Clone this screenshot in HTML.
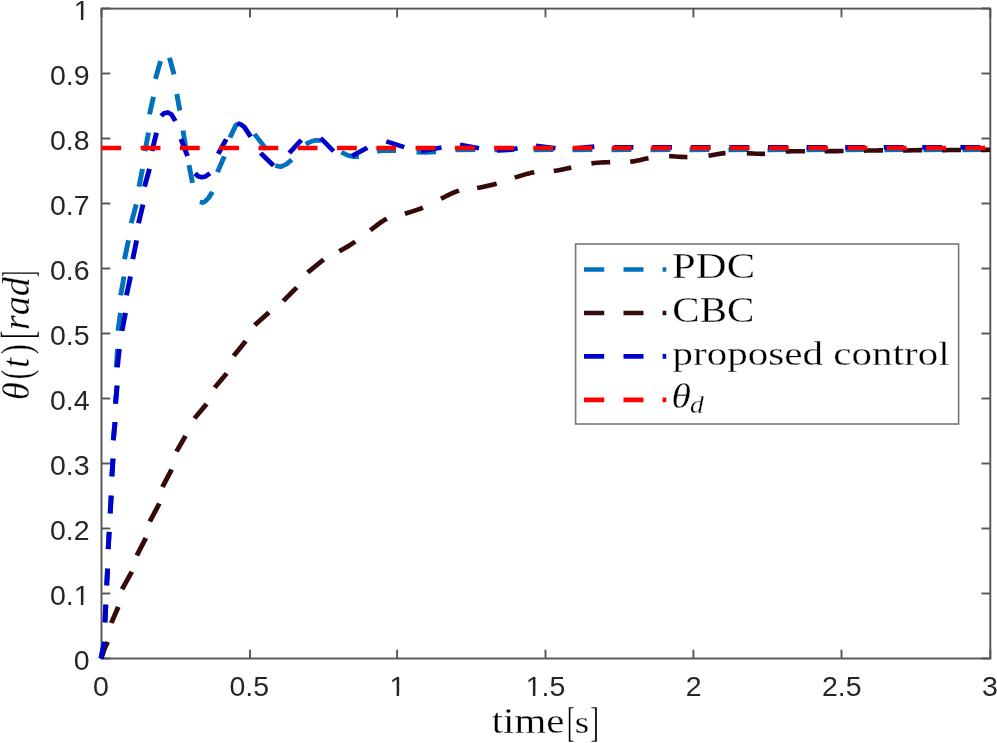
<!DOCTYPE html>
<html><head><meta charset="utf-8"><style>
html,body{margin:0;padding:0;background:#fff;}
svg{display:block;filter:blur(0.45px);}
.tk{font-family:"Liberation Sans",Arial,sans-serif;font-size:27px;fill:#262626;}
.ser{font-family:"Liberation Serif","Times New Roman",serif;fill:#000;stroke:#fff;stroke-width:0.3px;}
</style></head><body>
<svg width="997" height="743" viewBox="0 0 997 743">
<rect width="997" height="743" fill="#fff"/>
<g stroke="#555555" stroke-width="1.9" fill="none">
<rect x="101.5" y="8.6" width="888.8" height="649.9"/>
<line x1="101.5" y1="658.5" x2="101.5" y2="649.7"/><line x1="101.5" y1="8.6" x2="101.5" y2="17.4"/><line x1="250.0" y1="658.5" x2="250.0" y2="649.7"/><line x1="250.0" y1="8.6" x2="250.0" y2="17.4"/><line x1="397.1" y1="658.5" x2="397.1" y2="649.7"/><line x1="397.1" y1="8.6" x2="397.1" y2="17.4"/><line x1="545.5" y1="658.5" x2="545.5" y2="649.7"/><line x1="545.5" y1="8.6" x2="545.5" y2="17.4"/><line x1="693.4" y1="658.5" x2="693.4" y2="649.7"/><line x1="693.4" y1="8.6" x2="693.4" y2="17.4"/><line x1="841.5" y1="658.5" x2="841.5" y2="649.7"/><line x1="841.5" y1="8.6" x2="841.5" y2="17.4"/><line x1="990.3" y1="658.5" x2="990.3" y2="649.7"/><line x1="990.3" y1="8.6" x2="990.3" y2="17.4"/><line x1="101.5" y1="658.5" x2="110.3" y2="658.5"/><line x1="990.3" y1="658.5" x2="981.5" y2="658.5"/><line x1="101.5" y1="593.5" x2="110.3" y2="593.5"/><line x1="990.3" y1="593.5" x2="981.5" y2="593.5"/><line x1="101.5" y1="528.5" x2="110.3" y2="528.5"/><line x1="990.3" y1="528.5" x2="981.5" y2="528.5"/><line x1="101.5" y1="463.5" x2="110.3" y2="463.5"/><line x1="990.3" y1="463.5" x2="981.5" y2="463.5"/><line x1="101.5" y1="398.5" x2="110.3" y2="398.5"/><line x1="990.3" y1="398.5" x2="981.5" y2="398.5"/><line x1="101.5" y1="333.5" x2="110.3" y2="333.5"/><line x1="990.3" y1="333.5" x2="981.5" y2="333.5"/><line x1="101.5" y1="268.5" x2="110.3" y2="268.5"/><line x1="990.3" y1="268.5" x2="981.5" y2="268.5"/><line x1="101.5" y1="203.5" x2="110.3" y2="203.5"/><line x1="990.3" y1="203.5" x2="981.5" y2="203.5"/><line x1="101.5" y1="138.5" x2="110.3" y2="138.5"/><line x1="990.3" y1="138.5" x2="981.5" y2="138.5"/><line x1="101.5" y1="73.5" x2="110.3" y2="73.5"/><line x1="990.3" y1="73.5" x2="981.5" y2="73.5"/><line x1="101.5" y1="8.5" x2="110.3" y2="8.5"/><line x1="990.3" y1="8.5" x2="981.5" y2="8.5"/>
</g>
<g transform="matrix(1.075,0,0,1,0,0)" fill="none" stroke-width="4.6" stroke-linejoin="round" stroke-linecap="butt">
<path d="M93.95,658.50 97.12,641.90M97.67,622.40 98.42,604.70M99.26,585.40 100.09,568.60M100.65,549.20 101.58,531.80M102.51,513.30 103.44,495.60M104.09,476.30 105.12,458.70M105.40,440.30 106.98,422.10M107.44,403.80 108.93,385.60M108.19,367.30 109.40,349.00M109.77,330.80 112.09,312.90M112.28,295.40 115.35,276.50M115.81,259.20 119.53,240.30M122.05,223.30 126.79,204.40M129.30,186.70 132.56,168.90M134.88,151.10 138.14,132.70M139.07,114.40 142.79,96.70M144.65,78.90 149.30,61.10M157.67,57.80 161.86,74.40M164.47,94.00 167.26,110.50M170.23,130.50 173.02,149.00M175.81,165.20 179.07,182.90M185.86,202.00 188.37,202.60 190.70,201.50 193.95,198.00 197.58,191.80M202.33,172.20 208.65,156.30M213.95,137.50 219.53,125.00 221.86,123.30M236.74,134.00 245.02,145.50 247.44,149.50M256.09,165.40 259.07,166.40 261.40,166.60 266.05,164.50 271.44,159.80M284.47,144.30 287.44,142.50 290.23,141.20 293.95,140.30 298.60,140.50M317.49,152.20 321.86,154.60 325.58,156.00 329.30,156.80 333.86,156.80M350.70,151.30 359.07,150.40 368.37,150.60M387.44,152.30 396.28,152.40 405.58,152.00M423.72,149.90 442.14,149.80M460.00,149.90 478.42,149.80M496.47,149.90 514.88,149.80M532.56,149.90 550.98,149.80M568.84,149.90 587.26,149.80M605.12,149.90 623.53,149.80M641.40,149.90 659.81,149.80M677.67,149.90 696.09,149.80M713.95,149.90 732.37,149.80M750.23,149.90 768.65,149.80M786.51,149.90 804.93,149.80M822.79,149.90 841.21,149.80M859.07,149.90 877.49,149.80M895.35,149.90 913.77,149.80" stroke="#0072bd"/>
<path d="M94.14,658.50 96.74,650.00 100.09,641.80M103.53,623.00 110.05,606.80M113.58,589.30 122.60,571.80M127.35,555.60 135.63,538.10M139.35,521.40 148.19,503.60M151.16,486.90 159.63,469.40M164.19,451.50 172.56,435.90M180.93,418.40 192.19,404.00M199.72,387.70 210.88,373.30M217.40,355.80 228.56,341.10M236.93,325.10 250.14,312.50M263.53,301.00 276.00,287.50M286.23,272.40 301.02,259.50M315.63,251.30 318.11,249.79 320.60,248.25 323.09,246.68 325.56,245.07 328.01,243.41 330.42,241.70M344.47,230.30 346.95,228.30 349.44,226.21 351.95,224.14 354.51,222.15 357.12,220.35 359.81,218.80M376.65,213.70 379.46,212.78 382.26,211.86 385.06,210.92 387.85,209.93 390.63,208.87 393.40,207.70M410.23,198.70 413.01,197.24 415.78,195.73 418.55,194.25 421.33,192.86 424.14,191.62 426.98,190.60M443.81,188.10 446.83,187.48 449.89,186.81 452.96,186.08 456.02,185.30 459.06,184.47 462.05,183.60M478.79,177.60 481.77,176.60 484.79,175.59 487.83,174.59 490.89,173.66 493.96,172.85 497.02,172.20M515.16,170.90 517.92,170.47 520.62,169.97 523.30,169.41 525.97,168.82 528.68,168.21 531.44,167.60M550.14,163.40 553.07,163.02 555.98,162.73 558.87,162.52 561.77,162.36 564.69,162.23 567.63,162.10M586.23,161.80 589.11,161.38 591.93,160.81 594.73,160.15 597.53,159.47 600.36,158.83 603.26,158.30M622.42,156.30 625.30,156.31 628.12,156.45 630.92,156.67 633.71,156.89 636.55,157.06 639.44,157.10M659.07,155.60 661.79,155.22 664.40,154.75 666.97,154.26 669.54,153.79 672.16,153.38 674.88,153.10M694.70,153.30 697.60,153.40 700.43,153.54 703.23,153.69 706.02,153.81 708.84,153.86 711.72,153.80M730.88,151.50 733.90,151.34 736.90,151.25 739.88,151.21 742.86,151.21 745.84,151.21 748.84,151.20M767.07,151.20 770.02,151.18 772.96,151.15 775.88,151.12 778.82,151.09 781.77,151.05 784.74,151.00M803.72,150.60 806.70,150.55 809.64,150.51 812.57,150.47 815.49,150.44 818.43,150.41 821.40,150.40M840.00,150.50 842.99,150.46 845.97,150.39 848.94,150.31 851.90,150.22 854.87,150.15 857.86,150.10M876.28,150.10 879.24,150.09 882.18,150.07 885.11,150.06 888.04,150.04 890.99,150.02 893.95,150.00M912.56,149.90 914.14,149.88 915.59,149.87 916.95,149.85 918.26,149.83 919.57,149.82 920.93,149.80" stroke="#360a0a"/>
<path d="M93.95,658.50 97.12,641.90M97.67,622.40 98.42,604.70M99.26,585.40 100.09,568.60M100.65,549.20 101.58,531.80M102.51,513.30 103.44,495.60M104.09,476.30 105.12,458.70M105.40,440.30 106.98,422.10M107.44,403.80 108.93,385.60M109.21,367.30 110.98,349.00M113.49,330.80 116.74,312.90M117.67,295.40 121.40,276.50M123.53,259.20 127.07,240.30M128.84,223.30 133.02,204.40M134.42,186.70 139.07,168.90M141.40,151.10 145.58,132.70M149.95,116.00 152.56,113.20 156.09,112.40 159.53,114.50 163.07,121.00M168.37,139.00 174.42,156.00M181.40,173.50 184.65,176.50 187.81,177.30 191.16,176.50 195.26,173.20M202.98,153.90 210.42,139.30M220.93,123.50 224.19,124.50 227.44,127.30 233.21,136.80M242.42,153.10 254.51,165.70M269.12,153.10 280.28,140.10M298.23,138.00 310.33,151.20M327.35,156.10 341.67,147.70M359.35,141.30 376.00,147.10M391.63,151.20 410.70,147.60M427.91,144.80 445.58,148.20M462.33,150.50 472.56,150.00 481.49,148.30M498.60,145.80 516.74,148.30M534.88,148.30 552.84,146.60M570.79,147.40 589.21,147.40M606.70,147.40 625.12,147.40M642.60,147.40 661.02,147.40M678.51,147.40 696.93,147.40M714.42,147.40 732.84,147.40M750.33,147.40 768.74,147.40M786.23,147.40 804.65,147.40M822.14,147.40 840.56,147.40M857.86,147.40 876.28,147.40M893.40,147.40 911.81,147.40" stroke="#0000cc"/>
<path d="M94.33,147.99 112.74,147.99M130.86,147.99 149.27,147.99M167.39,147.99 185.80,147.99M203.92,147.99 222.33,147.99M240.45,147.99 258.87,147.99M276.98,147.99 295.40,147.99M313.51,147.99 331.93,147.99M350.04,147.99 368.46,147.99M386.57,147.99 404.99,147.99M423.10,147.99 441.52,147.99M459.63,147.99 478.05,147.99M496.16,147.99 514.58,147.99M532.69,147.99 551.11,147.99M569.22,147.99 587.64,147.99M605.75,147.99 624.17,147.99M642.28,147.99 660.70,147.99M678.81,147.99 697.23,147.99M715.34,147.99 733.76,147.99M751.87,147.99 770.29,147.99M788.40,147.99 806.82,147.99M824.93,147.99 843.35,147.99M861.46,147.99 879.88,147.99M897.99,147.99 916.41,147.99" stroke="#ff0000"/>
</g>
<g class="tk">
<text transform="matrix(1.055,0,0,1,101.0,695.8)" text-anchor="middle">0</text><text transform="matrix(1.055,0,0,1,249.2,695.8)" text-anchor="middle">0.5</text><text transform="matrix(1.055,0,0,1,397.3,695.8)" text-anchor="middle">1</text><text transform="matrix(1.055,0,0,1,545.5,695.8)" text-anchor="middle">1.5</text><text transform="matrix(1.055,0,0,1,693.7,695.8)" text-anchor="middle">2</text><text transform="matrix(1.055,0,0,1,841.8,695.8)" text-anchor="middle">2.5</text><text transform="matrix(1.055,0,0,1,990.0,695.8)" text-anchor="middle">3</text>
<text transform="matrix(1.055,0,0,1,89.5,669.7)" text-anchor="end">0</text><text transform="matrix(1.055,0,0,1,89.5,604.7)" text-anchor="end">0.1</text><text transform="matrix(1.055,0,0,1,89.5,539.7)" text-anchor="end">0.2</text><text transform="matrix(1.055,0,0,1,89.5,474.7)" text-anchor="end">0.3</text><text transform="matrix(1.055,0,0,1,89.5,409.7)" text-anchor="end">0.4</text><text transform="matrix(1.055,0,0,1,89.5,344.7)" text-anchor="end">0.5</text><text transform="matrix(1.055,0,0,1,89.5,279.7)" text-anchor="end">0.6</text><text transform="matrix(1.055,0,0,1,89.5,214.7)" text-anchor="end">0.7</text><text transform="matrix(1.055,0,0,1,89.5,149.7)" text-anchor="end">0.8</text><text transform="matrix(1.055,0,0,1,89.5,84.7)" text-anchor="end">0.9</text><text transform="matrix(1.055,0,0,1,89.5,19.7)" text-anchor="end">1</text>
</g>
<g fill="#fff"><rect x="390.80" y="693.38" width="5.77" height="3.22"/><rect x="399.09" y="693.38" width="5.62" height="3.22"/><rect x="527.09" y="693.38" width="5.77" height="3.22"/><rect x="535.38" y="693.38" width="5.62" height="3.22"/><rect x="75.05" y="602.28" width="5.77" height="3.22"/><rect x="83.34" y="602.28" width="5.62" height="3.22"/><rect x="75.05" y="17.28" width="5.77" height="3.22"/><rect x="83.34" y="17.28" width="5.62" height="3.22"/></g>
<text class="ser" transform="matrix(1.1360,0.0000,0.0000,0.9792,491.72,733.26)" font-size="36">time</text>
<text class="ser" transform="matrix(0.6500,0.0000,0.0000,1.1630,566.91,736.28)" font-size="36">[</text>
<text class="ser" transform="matrix(1.0311,0.0000,0.0000,0.8812,574.65,733.28)" font-size="36">s</text>
<text class="ser" transform="matrix(0.7250,0.0000,0.0000,1.1630,590.29,736.28)" font-size="36">]</text>
<text class="ser" transform="matrix(0.0000,-0.9500,1.0148,0.0000,29.35,400.06)" font-size="38"><tspan font-style="italic">θ</tspan></text>
<text class="ser" transform="matrix(0.0000,-0.7487,1.1014,0.0000,30.19,379.21)" font-size="38">(</text>
<text class="ser" transform="matrix(0.0000,-0.9368,1.0759,0.0000,28.83,367.84)" font-size="38"><tspan font-style="italic">t</tspan></text>
<text class="ser" transform="matrix(0.0000,-0.7897,1.1014,0.0000,30.19,354.29)" font-size="38">)</text>
<text class="ser" transform="matrix(0.0000,-0.6824,1.2063,0.0000,33.17,338.98)" font-size="38">[</text>
<text class="ser" transform="matrix(0.0000,-1.0029,0.9757,0.0000,28.81,330.10)" font-size="38"><tspan font-style="italic">rad</tspan></text>
<text class="ser" transform="matrix(0.0000,-0.4727,1.1905,0.0000,32.85,277.01)" font-size="38">]</text>
<rect x="575.6" y="244" width="383" height="180" fill="#fff" stroke="#777" stroke-width="1.6"/>
<g transform="matrix(1.075,0,0,1,0,0)" fill="none" stroke-width="4.6">
<path d="M543.26,269.50 562.05,269.50M580.00,269.50 598.60,269.50M616.37,269.50 619.81,269.50" stroke="#0072bd"/>
<path d="M543.26,312.95 562.05,312.95M580.00,312.95 598.60,312.95M616.37,312.95 619.81,312.95" stroke="#360a0a"/>
<path d="M543.26,356.40 562.05,356.40M580.00,356.40 598.60,356.40M616.37,356.40 619.81,356.40" stroke="#0000cc"/>
<path d="M543.26,399.85 562.05,399.85M580.00,399.85 598.60,399.85M616.37,399.85 619.81,399.85" stroke="#ff0000"/>
</g>
<text class="ser" transform="matrix(1.1851,0.0000,0.0000,0.9979,672.11,277.75)" font-size="36">PDC</text>
<text class="ser" transform="matrix(1.1387,0.0000,0.0000,1.0103,672.29,322.05)" font-size="36">CBC</text>
<text class="ser" transform="matrix(1.1417,0.0000,0.0000,0.9435,672.43,364.59)" font-size="36">proposed control</text>
<text class="ser" transform="matrix(1.1000,0.0000,0.0000,0.9725,671.38,408.46)" font-size="36"><tspan font-style="italic">θ</tspan></text>
<text class="ser" transform="matrix(1.1064,0.0000,0.0000,0.9714,689.97,413.36)" font-size="25"><tspan font-style="italic">d</tspan></text>
</svg>
</body></html>
